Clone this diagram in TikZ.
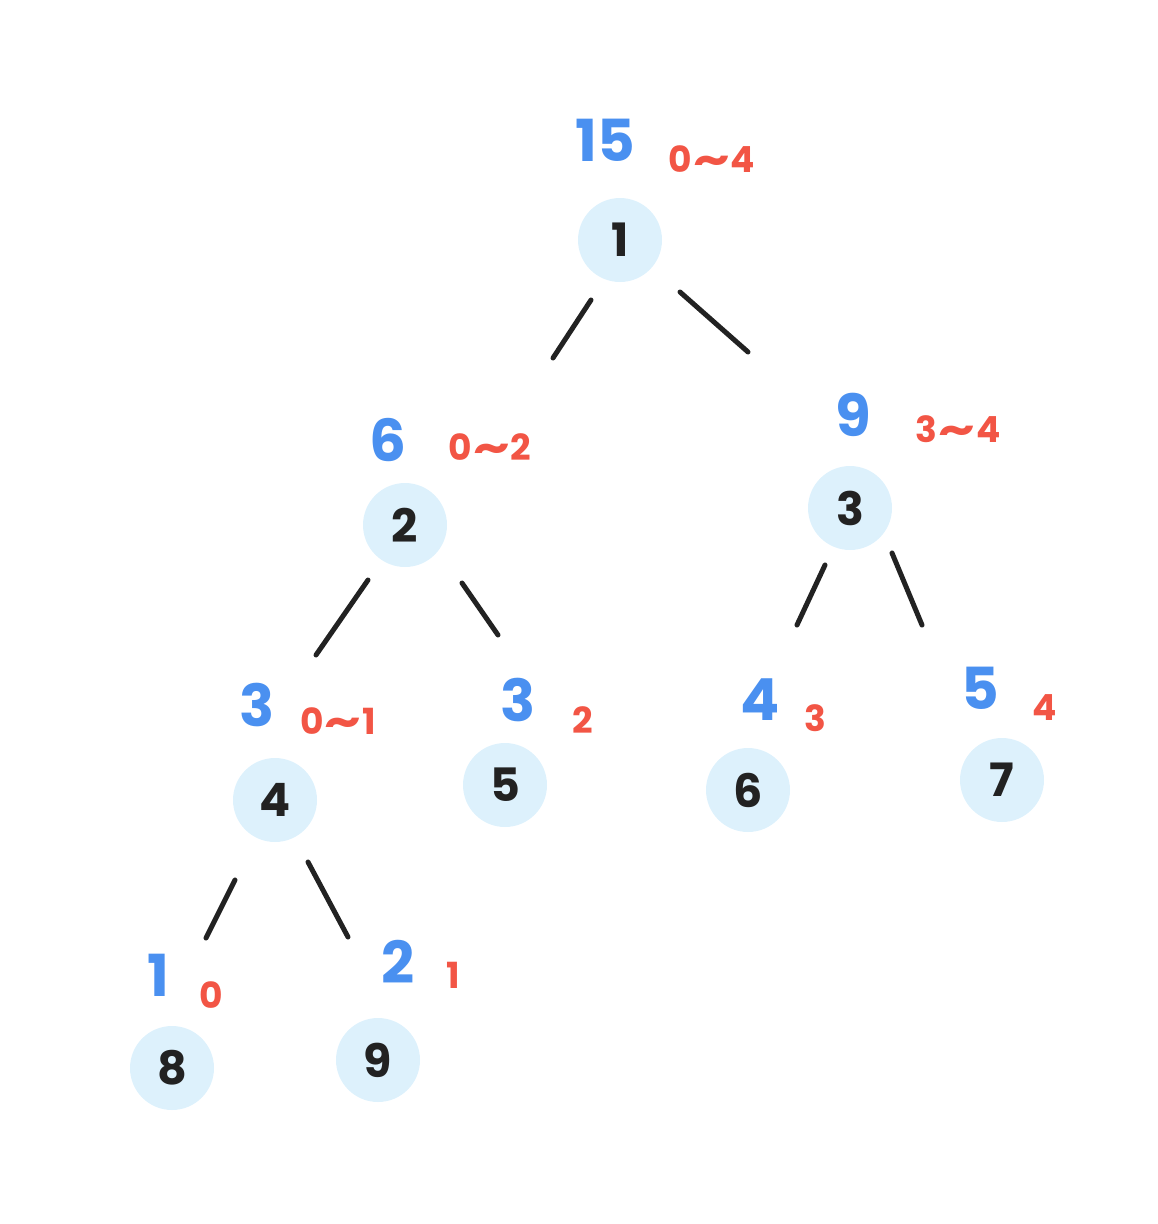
\documentclass[tikz,border=0pt]{standalone}
\usepackage{fontspec}
\setmainfont{Poppins}
\definecolor{nfill}{HTML}{DDF1FC}
\definecolor{bl}{HTML}{4A90F0}
\definecolor{rd}{HTML}{F25545}
\definecolor{ink}{HTML}{222222}
\newcommand{\tl}{\kern1pt\raisebox{-2pt}{\scalebox{1.6}[1.2]{\textasciitilde}}\kern1pt}
\begin{document}
\begin{tikzpicture}[x=1pt,y=-1pt,
  tn/.style={circle,fill=nfill,minimum size=84pt,inner sep=0pt,font=\fontsize{46}{46}\selectfont\bfseries,text=ink},
  bv/.style={font=\fontsize{58}{58}\selectfont\bfseries,text=bl,inner sep=0pt},
  rv/.style={font=\fontsize{36}{36}\selectfont\bfseries,text=rd,inner sep=0pt},
  ed/.style={draw=ink,line width=5pt,line cap=round}]
\useasboundingbox (0,0) rectangle (1158,1224);
\node[tn] (n1) at (620,240) {1};
\node[tn] (n2) at (405,525) {2};
\node[tn] (n3) at (850,508) {3};
\node[tn] (n4) at (275,800) {4};
\node[tn] (n5) at (505,785) {5};
\node[tn] (n6) at (748,790) {6};
\node[tn] (n7) at (1002,780) {7};
\node[tn] (n8) at (172,1068) {8};
\node[tn] (n9) at (378,1060) {9};
\node[bv] (b1) at (605,140) {15};
\node[bv] (b2) at (388,440) {6};
\node[bv] (b3) at (853,415) {9};
\node[bv] (b4) at (257,705) {3};
\node[bv] (b5) at (518,700) {3};
\node[bv] (b6) at (760,700) {4};
\node[bv] (b7) at (980,688) {5};
\node[bv] (b8) at (158,975) {1};
\node[bv] (b9) at (398,962) {2};
\node[rv] (r1) at (712,160) {0\tl4};
\node[rv] (r2) at (490,448) {0\tl2};
\node[rv] (r3) at (958,430) {3\tl4};
\node[rv] (r4) at (338,722) {0\tl1};
\node[rv] (r5) at (583,720) {2};
\node[rv] (r6) at (815,718) {3};
\node[rv] (r7) at (1045,708) {4};
\node[rv] (r8) at (211,995) {0};
\node[rv] (r9) at (453,975) {1};
\coordinate (e1a) at (591,300); \coordinate (e1b) at (553,358);
\coordinate (e2a) at (680,292); \coordinate (e2b) at (748,352);
\coordinate (e3a) at (368,580); \coordinate (e3b) at (316,655);
\coordinate (e4a) at (462,583); \coordinate (e4b) at (498,635);
\coordinate (e5a) at (825,565); \coordinate (e5b) at (797,625);
\coordinate (e6a) at (892,553); \coordinate (e6b) at (922,625);
\coordinate (e7a) at (235,880); \coordinate (e7b) at (206,938);
\coordinate (e8a) at (308,862); \coordinate (e8b) at (348,937);
\foreach \e in {1,...,8}{\draw[ed] (e\e a) -- (e\e b);}
\end{tikzpicture}
\end{document}
